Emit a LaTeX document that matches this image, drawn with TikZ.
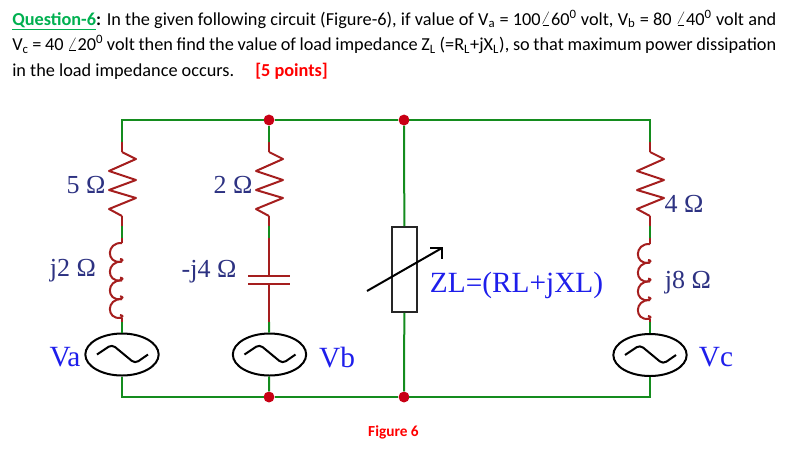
\documentclass[tikz,border=0pt]{standalone}
\usepackage{fontspec}
\setmainfont{Carlito}
\newfontfamily\labelfont{Liberation Serif}
\usetikzlibrary{shapes.geometric}
\definecolor{wiregreen}{RGB}{20,140,30}
\definecolor{partred}{RGB}{165,30,30}
\definecolor{dotred}{RGB}{200,0,20}
\definecolor{valnavy}{RGB}{45,50,130}
\definecolor{srcblue}{RGB}{30,30,235}
\definecolor{headgreen}{RGB}{0,176,80}
\tikzset{
  every pic/.style={yscale=-1},
  wire/.style={draw=wiregreen,line width=1.5pt},
  part/.style={draw=partred,line width=1.5pt},
  junction/.style={circle,fill=dotred,inner sep=0pt,minimum size=8.2pt},
  srcnode/.style={ellipse,draw=black,line width=1.5pt,inner sep=0pt,minimum width=55pt,minimum height=31.5pt},
  loadbox/.style={rectangle,draw=black!85,line width=1.5pt,inner sep=0pt,minimum width=18.5pt,minimum height=63.5pt},
  tuner/.style={draw=black,line width=1.5pt},
  vallabel/.style={text=valnavy,inner sep=0pt,font=\labelfont\fontsize{19.5}{22}\selectfont},
  srclabel/.style={text=srcblue,inner sep=0pt,font=\labelfont\fontsize{22}{25}\selectfont},
  textline/.style={anchor=base west,inner sep=0pt,font=\fontsize{13.7}{16}\selectfont},
  zigres/.pic={
    \coordinate (-top) at (0,0);
    \coordinate (-bot) at (0,64);
    \draw[part,line join=round] (-top) -- (14,7) -- (-13,19) -- (14,28) -- (-13,38) -- (14,46) -- (-13,57) -- (-bot);
  },
  coilind/.pic={
    \coordinate (-top) at (0,0);
    \coordinate (-bot) at (0,75);
    \foreach \k in {0,1,2,3}
      \draw[part] (0,\k*18.7) .. controls (-16,{\k*18.7-1}) and (-16,{\k*18.7+21}) .. (-1,{\k*18.7+18.7}) .. controls (1,{\k*18.7+18}) and (1,{\k*18.7+16}) .. (-2,{\k*18.7+16});
  },
  acwave/.pic={
    \draw[black,line width=1.5pt,rounded corners=3pt] (-25,0) -- (-10,-10) -- (13,9) -- (26,0);
  }
}
\begin{document}
\begin{tikzpicture}[x=0.75pt,y=0.75pt,yscale=-1,xscale=1]
\useasboundingbox (0,0) rectangle (796,462);

% Text
\node[textline] (lineone) at (12,25) {\makebox[573pt][s]{\textcolor{headgreen}{\textbf{\underline{Question-6}}}\textbf{:} In the given following circuit (Figure-6), if value of V\textsubscript{a} = 100$\angle$60\textsuperscript{0} volt, V\textsubscript{b} = 80 $\angle$40\textsuperscript{0} volt and}};
\node[textline] (linetwo) at (12,50.5) {\makebox[573pt][s]{V\textsubscript{c} = 40 $\angle$20\textsuperscript{0} volt then find the value of load impedance Z\textsubscript{L} (=R\textsubscript{L}+jX\textsubscript{L}), so that maximum power dissipation}};
\node[textline] (linethree) at (12,76) {in the load impedance occurs.};
\node[textline,text=red] (points) at (255,76) {\textbf{[5 points]}};

% Junctions
\coordinate (topleft) at (122,120);
\coordinate (topright) at (650,120);
\coordinate (botleft) at (122,397);
\coordinate (botright) at (650,397);
\node[junction] (topb) at (269,120) {};
\node[junction] (topz) at (404,120) {};
\node[junction] (botb) at (269,397) {};
\node[junction] (botz) at (404,397) {};

% Sources
\node[srcnode] (srca) at (122,354.5) {};
\node[srcnode] (srcb) at (269.5,354.5) {};
\node[srcnode] (srcc) at (650,355) {};
\pic at (srca) {acwave};
\pic at (srcb) {acwave};
\pic at (srcc) {acwave};

% Load
\node[loadbox] (zload) at (404.5,269.5) {};
\coordinate (arrowfrom) at (367,291);
\coordinate (arrowto) at (442,248);
\coordinate (barbleft) at (430,248);
\coordinate (barbdown) at (442,259);
\draw[tuner] (arrowfrom) -- (arrowto);
\draw[tuner,line join=miter] (barbleft) -- (arrowto) -- (barbdown);

% Branches with resistor
\pic (resa) at (122,152) {zigres};
\pic (resb) at (269,152) {zigres};
\pic (resc) at (650,152) {zigres};
\pic (inda) at (122,243) {coilind};
\pic (indc) at (650,244) {coilind};

% Capacitor
\coordinate (capup) at (269,276);
\coordinate (capdown) at (269,284);
\coordinate (plateul) at (248,276);
\coordinate (plateur) at (290,276);
\coordinate (platedl) at (248,284);
\coordinate (platedr) at (290,284);
\draw[part] (plateul) -- (plateur);
\draw[part] (platedl) -- (platedr);

% Wires
\foreach \b/\x in {a/122,b/269,c/650}{
  \coordinate (stubup\b) at (\x,142);
  \coordinate (stubdn\b) at (\x,226);
  \coordinate (joinup\b) at (\x,238);
  \coordinate (joindn\b) at (\x,322);
  \draw[part] (stubup\b) -- (res\b-top);
  \draw[part] (res\b-bot) -- (stubdn\b);
  \draw[wire] (stubdn\b) -- (joinup\b);
  \draw[wire] (joindn\b) -- (src\b);
}
\draw[wire] (topleft) -- (stubupa);
\draw[wire] (topb) -- (stubupb);
\draw[wire] (topright) -- (stubupc);
\draw[wire,line cap=rect] (topleft) -- (topb);
\draw[wire] (topb) -- (topz);
\draw[wire,line cap=rect] (topz) -- (topright);
\draw[wire,line cap=rect] (botleft) -- (botb);
\draw[wire] (botb) -- (botz);
\draw[wire,line cap=rect] (botz) -- (botright);
\draw[wire] (srca) -- (botleft);
\draw[wire] (srcb) -- (botb);
\draw[wire] (srcc) -- (botright);
\draw[wire] (topz) -- (zload);
\draw[wire] (zload) -- (botz);
\draw[part] (joinupa) -- (inda-top);
\draw[part] (inda-bot) -- (joindna);
\draw[part] (joinupc) -- (indc-top);
\draw[part] (indc-bot) -- (joindnc);
\draw[part] (joinupb) -- (capup);
\draw[part] (capdown) -- (joindnb);

% Text Node
\node[vallabel] (lblfive) at (86,185) {5 Ω};
\node[vallabel] (lbltwo) at (233,185) {2 Ω};
\node[vallabel] (lblfour) at (684,204) {4 Ω};
\node[vallabel] (lbljtwo) at (73,271) {j2 Ω};
\node[vallabel] (lbljfour) at (209,272) {-j4 Ω};
\node[vallabel] (lbljeight) at (688,283) {j8 Ω};
\node[srclabel] (lblva) at (65,357.5) {Va};
\node[srclabel] (lblvb) at (337,357.5) {Vb};
\node[srclabel] (lblvc) at (716,357.5) {Vc};
\node[srclabel] (lblzl) at (516.5,285) {ZL=(RL+jXL)};
\node[text=red,inner sep=0pt,font=\bfseries\fontsize{11.5}{14}\selectfont] (figcap) at (393.5,432) {Figure 6};
\end{tikzpicture}
\end{document}
